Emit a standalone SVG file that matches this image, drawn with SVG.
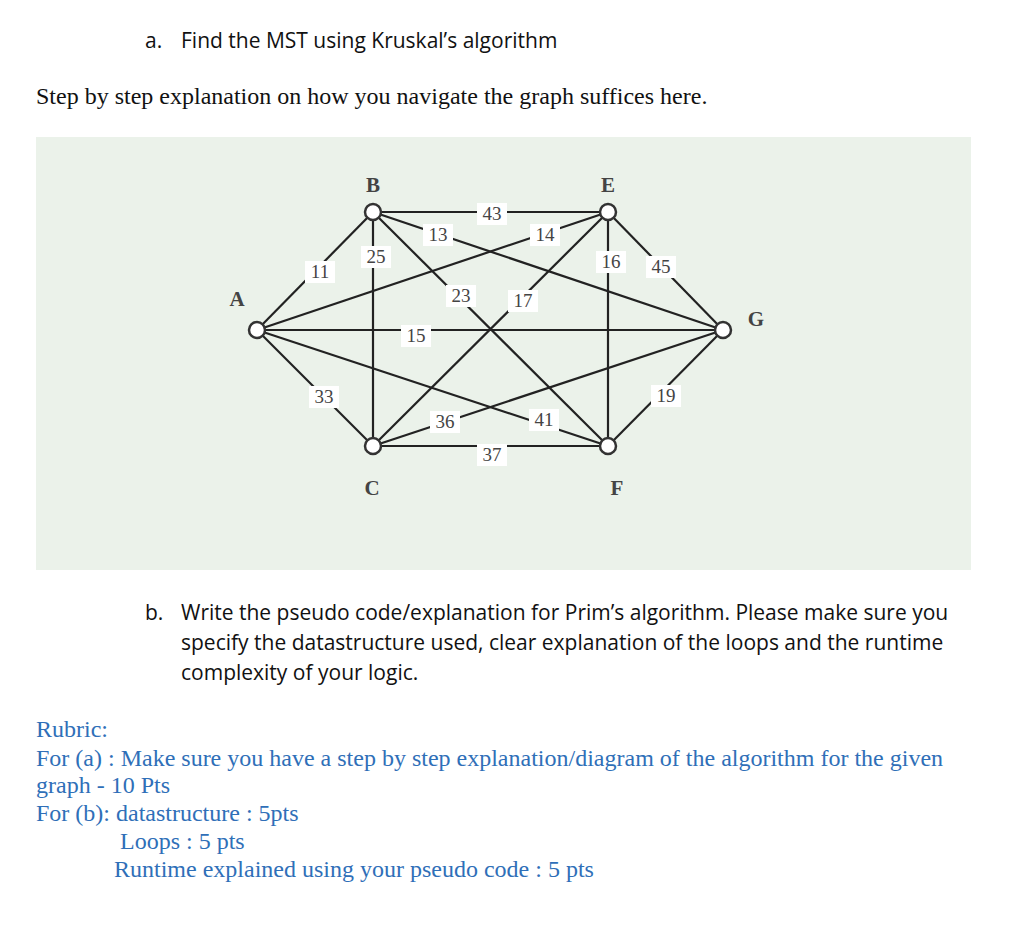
<svg xmlns="http://www.w3.org/2000/svg" width="1024" height="927" viewBox="0 0 1024 927">
<style>
.s{font-family:"Open Sans","Liberation Sans",sans-serif;font-size:21px;fill:#111}
.t{font-family:"Liberation Serif",serif;font-size:24px;fill:#111}
.r{font-family:"Liberation Serif",serif;font-size:24px;fill:#2f6fb8}
.e{stroke:#222;stroke-width:2.2;fill:none}
.lb{fill:#fff}
.lt{font-family:"Liberation Serif",serif;font-size:19px;fill:#444;text-anchor:middle}
.nl{font-family:"Liberation Serif",serif;font-size:21px;font-weight:bold;fill:#444;text-anchor:middle}
.n{fill:#fff;stroke:#333;stroke-width:2.5}
</style>
<rect width="1024" height="927" fill="#fff"/>
<text class="s" x="145" y="48">a.</text>
<text class="s" x="181" y="48">Find the MST using Kruskal’s algorithm</text>
<text class="t" x="36" y="104">Step by step explanation on how you navigate the graph suffices here.</text>
<rect x="36" y="137" width="935" height="433" fill="#ebf2ea"/>
<g id="edges">
<line class="e" x1="257" y1="330" x2="373" y2="212"/>
<line class="e" x1="257" y1="330" x2="373" y2="446"/>
<line class="e" x1="257" y1="330" x2="608" y2="212"/>
<line class="e" x1="257" y1="330" x2="723" y2="330"/>
<line class="e" x1="257" y1="330" x2="608" y2="446"/>
<line class="e" x1="373" y1="212" x2="608" y2="212"/>
<line class="e" x1="373" y1="212" x2="373" y2="446"/>
<line class="e" x1="373" y1="212" x2="723" y2="330"/>
<line class="e" x1="373" y1="212" x2="608" y2="446"/>
<line class="e" x1="608" y1="212" x2="608" y2="446"/>
<line class="e" x1="608" y1="212" x2="723" y2="330"/>
<line class="e" x1="608" y1="212" x2="373" y2="446"/>
<line class="e" x1="373" y1="446" x2="723" y2="330"/>
<line class="e" x1="373" y1="446" x2="608" y2="446"/>
<line class="e" x1="608" y1="446" x2="723" y2="330"/>
</g>
<g id="labels">
<rect class="lb" x="477" y="203" width="30" height="22"/><text class="lt" x="492" y="220">43</text>
<rect class="lb" x="423" y="224" width="30" height="22"/><text class="lt" x="438" y="241">13</text>
<rect class="lb" x="530" y="224" width="30" height="22"/><text class="lt" x="545" y="241">14</text>
<rect class="lb" x="305" y="261" width="30" height="22"/><text class="lt" x="320" y="278">11</text>
<rect class="lb" x="361" y="246" width="30" height="22"/><text class="lt" x="376" y="263">25</text>
<rect class="lb" x="596" y="251" width="30" height="22"/><text class="lt" x="611" y="268">16</text>
<rect class="lb" x="646" y="256" width="30" height="22"/><text class="lt" x="661" y="273">45</text>
<rect class="lb" x="446" y="285" width="30" height="22"/><text class="lt" x="461" y="302">23</text>
<rect class="lb" x="508" y="290" width="30" height="22"/><text class="lt" x="523" y="307">17</text>
<rect class="lb" x="401" y="325" width="30" height="22"/><text class="lt" x="416" y="342">15</text>
<rect class="lb" x="309" y="386" width="30" height="22"/><text class="lt" x="324" y="403">33</text>
<rect class="lb" x="651" y="385" width="30" height="22"/><text class="lt" x="666" y="402">19</text>
<rect class="lb" x="430" y="411" width="30" height="22"/><text class="lt" x="445" y="428">36</text>
<rect class="lb" x="529" y="409" width="30" height="22"/><text class="lt" x="544" y="426">41</text>
<rect class="lb" x="477" y="444" width="30" height="22"/><text class="lt" x="492" y="461">37</text>
</g>
<g id="A"><circle class="n" cx="257" cy="330" r="8"/><text class="nl" x="237" y="306">A</text></g>
<g id="B"><circle class="n" cx="373" cy="212" r="8"/><text class="nl" x="373" y="192">B</text></g>
<g id="E"><circle class="n" cx="608" cy="212" r="8"/><text class="nl" x="608" y="192">E</text></g>
<g id="G"><circle class="n" cx="723" cy="330" r="8"/><text class="nl" x="756" y="326">G</text></g>
<g id="C"><circle class="n" cx="373" cy="446" r="8"/><text class="nl" x="372" y="495">C</text></g>
<g id="F"><circle class="n" cx="608" cy="446" r="8"/><text class="nl" x="617" y="495">F</text></g>
<text class="s" x="145" y="620">b.</text>
<text class="s" x="181" y="620">Write the pseudo code/explanation for Prim’s algorithm. Please make sure you</text>
<text class="s" x="181" y="650">specify the datastructure used, clear explanation of the loops and the runtime</text>
<text class="s" x="181" y="680">complexity of your logic.</text>
<text class="r" x="36" y="737">Rubric:</text>
<text class="r" x="36" y="766">For (a) : Make sure you have a step by step explanation/diagram of the algorithm for the given</text>
<text class="r" x="36" y="793">graph - 10 Pts</text>
<text class="r" x="36" y="821">For (b): datastructure : 5pts</text>
<text class="r" x="120" y="849">Loops : 5 pts</text>
<text class="r" x="114" y="877">Runtime explained using your pseudo code : 5 pts</text>
</svg>
